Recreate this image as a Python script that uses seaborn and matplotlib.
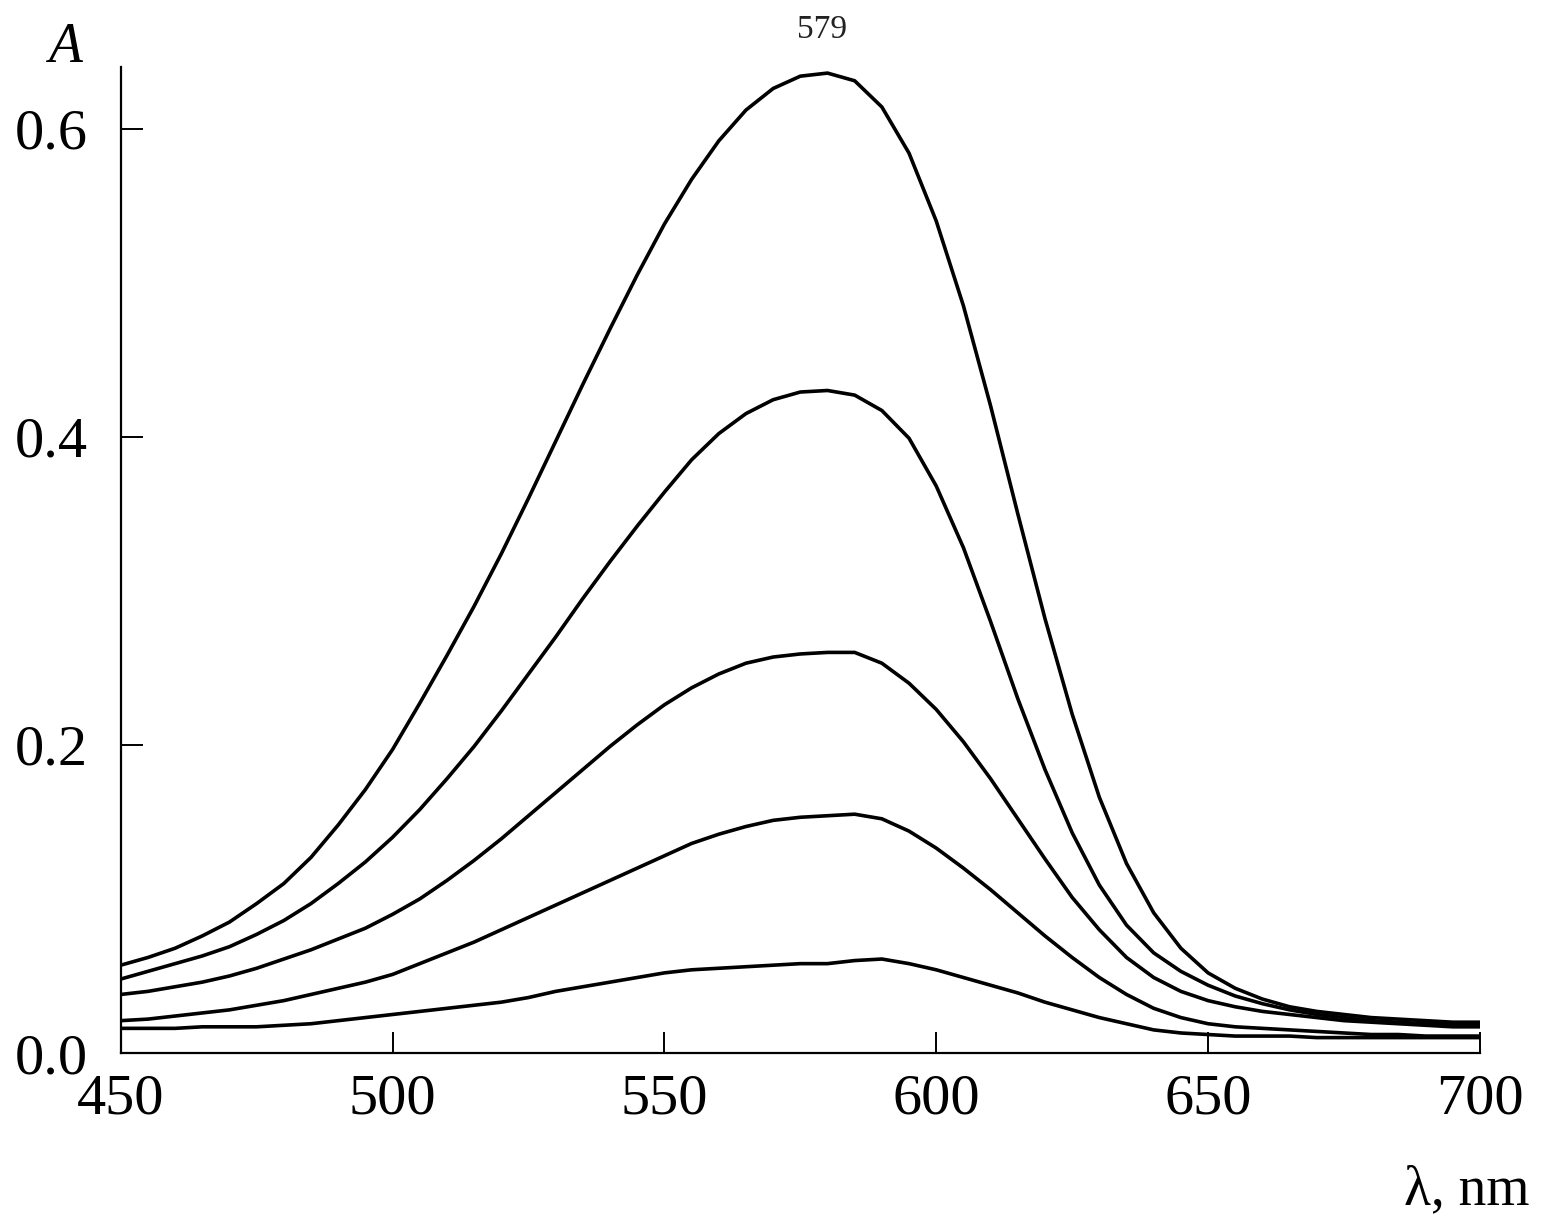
import numpy as np
import pandas as pd
import matplotlib
matplotlib.use("Agg")
import matplotlib.pyplot as plt
import seaborn as sns

wavelength = [450, 455, 460, 465, 470, 475, 480, 485, 490, 495,
              500, 505, 510, 515, 520, 525, 530, 535, 540, 545,
              550, 555, 560, 565, 570, 575, 580, 585, 590, 595,
              600, 605, 610, 615, 620, 625, 630, 635, 640, 645,
              650, 655, 660, 665, 670, 675, 680, 685, 690, 695, 700]

curve1 = [0.057, 0.062, 0.068, 0.076, 0.085, 0.097, 0.110, 0.127, 0.148, 0.171,
          0.197, 0.227, 0.258, 0.290, 0.324, 0.360, 0.397, 0.434, 0.470, 0.505,
          0.538, 0.567, 0.592, 0.612, 0.626, 0.634, 0.636, 0.631, 0.614, 0.584,
          0.540, 0.485, 0.420, 0.350, 0.282, 0.220, 0.166, 0.123, 0.091, 0.068,
          0.052, 0.042, 0.035, 0.030, 0.027, 0.025, 0.023, 0.022, 0.021, 0.020, 0.020]

curve2 = [0.048, 0.053, 0.058, 0.063, 0.069, 0.077, 0.086, 0.097, 0.110, 0.124,
          0.140, 0.158, 0.178, 0.199, 0.222, 0.246, 0.270, 0.295, 0.319, 0.342,
          0.364, 0.385, 0.402, 0.415, 0.424, 0.429, 0.430, 0.427, 0.417, 0.399,
          0.368, 0.328, 0.280, 0.230, 0.184, 0.143, 0.109, 0.083, 0.065, 0.053,
          0.044, 0.037, 0.032, 0.028, 0.025, 0.023, 0.021, 0.020, 0.019, 0.019, 0.018]

curve3 = [0.038, 0.040, 0.043, 0.046, 0.050, 0.055, 0.061, 0.067, 0.074, 0.081,
          0.090, 0.100, 0.112, 0.125, 0.139, 0.154, 0.169, 0.184, 0.199, 0.213,
          0.226, 0.237, 0.246, 0.253, 0.257, 0.259, 0.260, 0.260, 0.253, 0.240,
          0.223, 0.202, 0.178, 0.152, 0.126, 0.101, 0.080, 0.062, 0.049, 0.040,
          0.034, 0.030, 0.027, 0.025, 0.023, 0.021, 0.020, 0.019, 0.018, 0.017, 0.017]

curve4 = [0.021, 0.022, 0.024, 0.026, 0.028, 0.031, 0.034, 0.038, 0.042, 0.046,
          0.051, 0.058, 0.065, 0.072, 0.080, 0.088, 0.096, 0.104, 0.112, 0.120,
          0.128, 0.136, 0.142, 0.147, 0.151, 0.153, 0.154, 0.155, 0.152, 0.144,
          0.133, 0.120, 0.106, 0.091, 0.076, 0.062, 0.049, 0.038, 0.029, 0.023,
          0.019, 0.017, 0.016, 0.015, 0.014, 0.013, 0.012, 0.012, 0.011, 0.011, 0.011]

curve5 = [0.016, 0.016, 0.016, 0.017, 0.017, 0.017, 0.018, 0.019, 0.021, 0.023,
          0.025, 0.027, 0.029, 0.031, 0.033, 0.036, 0.040, 0.043, 0.046, 0.049,
          0.052, 0.054, 0.055, 0.056, 0.057, 0.058, 0.058, 0.060, 0.061, 0.058,
          0.054, 0.049, 0.044, 0.039, 0.033, 0.028, 0.023, 0.019, 0.015, 0.013,
          0.012, 0.011, 0.011, 0.011, 0.010, 0.010, 0.010, 0.010, 0.010, 0.010, 0.010]

curve_names = ["1", "2", "3", "4", "5"]
y_ticks = [0.0, 0.2, 0.4, 0.6]
y_tick_labels = ["0.0", "0.2", "0.4", "0.6"]
x_ticks = [450, 500, 550, 600, 650, 700]
x_tick_labels = ["450", "500", "550", "600", "650", "700"]
peak_label = "579"
peak_pos = 579

frames = []
for name, vals in zip(curve_names, [curve1, curve2, curve3, curve4, curve5]):
    frames.append(pd.DataFrame({"wl": wavelength, "A": vals, "curve": name}))
df = pd.concat(frames, ignore_index=True)

sns.set_style("ticks")
plt.rcParams["font.family"] = ["Liberation Serif", "DejaVu Serif"]
plt.rcParams["text.color"] = "black"
plt.rcParams["xtick.color"] = "black"
plt.rcParams["ytick.color"] = "black"

fig = plt.figure(figsize=(15.48, 12.28), dpi=100)
ax = fig.add_axes([0.078, 0.1425, 0.878, 0.803])

sns.lineplot(data=df, x="wl", y="A", hue="curve", units="curve", estimator=None,
             palette=["black"] * 5, linewidth=2.6, legend=False, ax=ax, sort=False)

ax.set_xlim(450, 700)
ax.set_ylim(0, 0.640)
ax.set_xticks(x_ticks)
ax.set_xticklabels(x_tick_labels)
ax.set_yticks(y_ticks)
ax.set_yticklabels(y_tick_labels)
ax.set_xlabel("")
ax.set_ylabel("")

for s in ["top", "right"]:
    ax.spines[s].set_visible(False)
for s in ["left", "bottom"]:
    ax.spines[s].set_linewidth(1.6)
    ax.spines[s].set_color("black")

ax.tick_params(axis="both", direction="in", labelsize=42, width=1.4,
               color="black", labelcolor="black")
ax.tick_params(axis="y", length=16, pad=24)
ax.tick_params(axis="x", length=15, pad=15)
ax.xaxis.get_major_ticks()[1].tick1line.set_color("#888888")

fig.text(65 / 1548, 1 - 48 / 1228, "A", fontsize=40, fontstyle="italic",
         ha="center", va="center", color="black")
ax.text(peak_pos, 0.654, peak_label, fontsize=24, ha="center", va="bottom", color="#222222")
fig.text(1530 / 1548, 1 - 1190 / 1228, "λ, nm", fontsize=40,
         ha="right", va="center", color="black")

fig.savefig("out.png", dpi=100)
